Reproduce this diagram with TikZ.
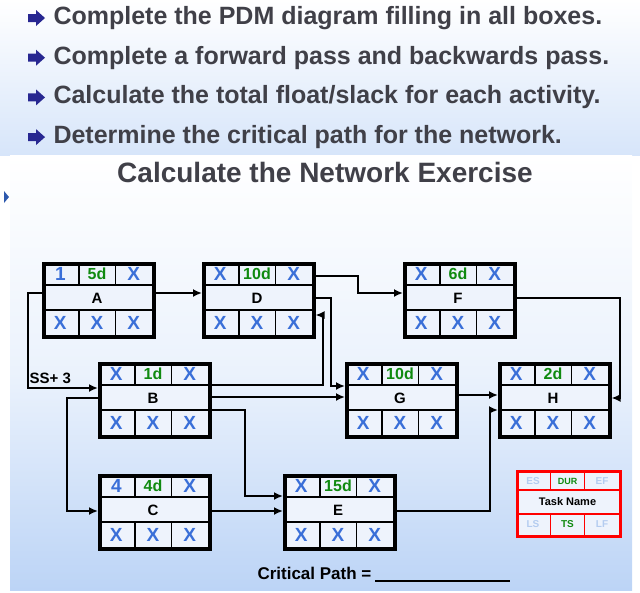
\documentclass[tikz,border=0pt]{standalone}
\usepackage{fontspec}
\setmainfont{Liberation Sans}
\usetikzlibrary{arrows.meta,calc}
\definecolor{xblue}{HTML}{3A6FD8}
\definecolor{dgreen}{HTML}{108A10}
\definecolor{hdr}{HTML}{404048}
\definecolor{bgblue}{HTML}{BCD4F6}
\definecolor{cellbg}{HTML}{EEF3FC}
\definecolor{legfaint}{HTML}{B4CCF0}
\tikzset{
  pdm/.style={draw=black, line width=3.5pt, minimum width=110pt, minimum height=73pt, inner sep=0pt},
  cell/.style={draw=black, line width=1.6pt},
  xt/.style={font=\bfseries\fontsize{19}{19}\selectfont, text=xblue},
  dt/.style={font=\bfseries\fontsize{16}{16}\selectfont, text=dgreen},
  nt/.style={font=\bfseries\fontsize{15}{15}\selectfont},
  link/.style={line width=2.5pt, -{Latex[length=9pt,width=8pt]}},
  bullet/.style={font=\bfseries\fontsize{25}{25}\selectfont, text=hdr, anchor=west}
}
% name, left x, top y, ES, DUR, EF, task
\newcommand\pdmbox[7]{%
  \node[pdm, fill=cellbg, anchor=north west] (#1) at (#2,#3) {};
  \draw[cell] ($(#1.north west)+(0,23)$) -- ($(#1.north east)+(0,23)$);
  \draw[cell] ($(#1.north west)+(0,48)$) -- ($(#1.north east)+(0,48)$);
  \foreach \k in {1,2}{
    \draw[cell] ($(#1.north west)+(36.7*\k,0)$) -- ($(#1.north west)+(36.7*\k,23)$);
    \draw[cell] ($(#1.north west)+(36.7*\k,48)$) -- ($(#1.north west)+(36.7*\k,73)$);}
  \node[xt] at ($(#1.north west)+(18.3,12)$) {#4};
  \node[dt] at ($(#1.north west)+(55,12)$) {#5};
  \node[xt] at ($(#1.north west)+(91.7,12)$) {#6};
  \node[nt] at ($(#1.north west)+(55,36)$) {#7};
  \foreach \k in {0,1,2}{\node[xt] at ($(#1.north west)+(18.3+36.7*\k,61)$) {X};}
}
% point on a box side, measured down from its top
\newcommand\at[3]{($(#1.north #2)+(0,#3)$)}
\begin{document}
\begin{tikzpicture}[x=1pt,y=-1pt]
\useasboundingbox (0,0) rectangle (640,592);
% background
\shade[top color=white, bottom color=bgblue!60] (0,0) rectangle (640,155);
\shade[top color=white, bottom color=bgblue, middle color=white!70!bgblue] (10,155) rectangle (632,590);
\fill[xblue!80!black] (4,191) -- (9,197) -- (4,203) -- cycle;
% header
\foreach \t [count=\i] in {Complete the PDM diagram filling in all boxes.,
  Complete a forward pass and backwards pass.,
  Calculate the total float/slack for each activity.,
  Determine the critical path for the network.}{
  \pgfmathsetmacro\yy{18+39.7*(\i-1)}
  \fill[hdr!60!blue] (28,\yy-4) -- (36,\yy-4) -- (36,\yy-8) -- (45,\yy) -- (36,\yy+8) -- (36,\yy+4) -- (28,\yy+4) -- cycle;
  \node[bullet] (h\i) at (50,\yy) {\t};
}
\node[font=\bfseries\fontsize{28}{28}\selectfont, text=hdr] (title) at (325,172) {Calculate the Network Exercise};
% boxes
\pdmbox{A}{42}{262}{1}{5d}{X}{A}
\pdmbox{D}{202}{262}{X}{10d}{X}{D}
\pdmbox{F}{403}{262}{X}{6d}{X}{F}
\pdmbox{B}{98}{362}{X}{1d}{X}{B}
\pdmbox{G}{345}{362}{X}{10d}{X}{G}
\pdmbox{H}{498}{362}{X}{2d}{X}{H}
\pdmbox{C}{98}{474}{4}{4d}{X}{C}
\pdmbox{E}{283}{474}{X}{15d}{X}{E}
% legend
\node[draw=red, line width=3pt, fill=cellbg, minimum width=103pt, minimum height=65pt, anchor=north west] (leg) at (516,470) {};
\draw[red, line width=1.4pt] (516,490) -- (619,490) (516,514) -- (619,514)
  (550.3,470) -- (550.3,490) (584.7,470) -- (584.7,490) (550.3,514) -- (550.3,535) (584.7,514) -- (584.7,535);
\node[font=\bfseries\fontsize{10}{10}\selectfont, text=legfaint] (les) at (533,481) {ES};
\node[font=\bfseries\fontsize{9}{9}\selectfont, text=dgreen] (ldur) at (567.5,481) {DUR};
\node[font=\bfseries\fontsize{10}{10}\selectfont, text=legfaint] (lef) at (602,481) {EF};
\node[font=\bfseries\fontsize{11}{11}\selectfont] (ltn) at (567.5,502) {Task Name};
\node[font=\bfseries\fontsize{10}{10}\selectfont, text=legfaint] (lls) at (533,524) {LS};
\node[font=\bfseries\fontsize{10}{10}\selectfont, text=dgreen] (lts) at (567.5,524) {TS};
\node[font=\bfseries\fontsize{10}{10}\selectfont, text=legfaint] (llf) at (602,524) {LF};
% critical path
\node[font=\bfseries\fontsize{17}{17}\selectfont, anchor=west] (cp) at (254,573) {Critical Path =};
\draw[line width=1.5pt] (375,581) -- (510,581);
% connectors
\draw[link] \at{A}{west}{31} -| (28,340) |- \at{B}{west}{26}
  node[pos=0.5, nt, anchor=south west, xshift=-3pt] {SS+ 3};
\draw[link] \at{A}{east}{31} -- \at{D}{west}{31};
\draw[link] \at{D}{east}{14} -| (358,280) |- \at{F}{west}{31};
\draw[link] \at{D}{east}{36} -| (331,340) |- \at{G}{west}{24};
\draw[link] \at{B}{east}{23} -| (323,340) |- \at{D}{east}{53};
\draw[link] \at{B}{east}{35} -- \at{G}{west}{35};
\draw[link] \at{B}{west}{36} -| (67,450) |- \at{C}{west}{37};
\draw[link] \at{B}{east}{48} -| (245,450) |- \at{E}{west}{22};
\draw[link] \at{C}{east}{37} -- \at{E}{west}{37};
\draw[link] \at{E}{east}{37} -| (490,450) |- \at{H}{west}{48};
\draw[link] \at{G}{east}{33} -- \at{H}{west}{33};
\draw[link] \at{F}{east}{36} -| (620,340) |- \at{H}{east}{36};
\end{tikzpicture}
\end{document}
